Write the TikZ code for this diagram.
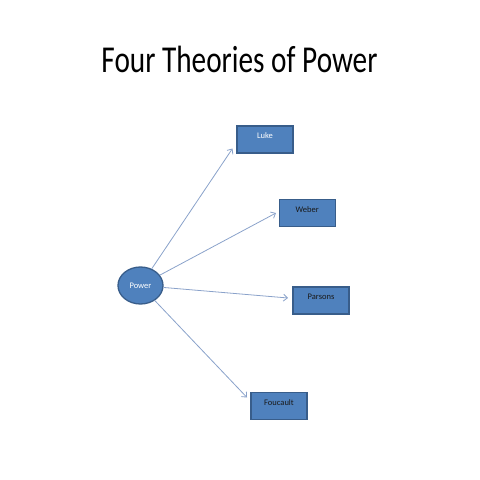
\documentclass[tikz,border=0pt]{standalone}
\usepackage{fontspec}
\setmainfont{Carlito}
\usetikzlibrary{arrows.meta,shapes.geometric}
\definecolor{boxfill}{HTML}{4F81BD}
\definecolor{boxline}{HTML}{385D8A}
\definecolor{arrcol}{HTML}{8AA2CA}
\definecolor{darktxt}{HTML}{1A1A1A}
\begin{document}
\begin{tikzpicture}[x=1pt,y=-1pt,
  box/.style={draw=boxline,line width=1.3pt,fill=boxfill,minimum width=56pt,minimum height=27pt,
    inner sep=0pt,font=\fontsize{8.5}{10}\selectfont,text depth=7pt},
  oval/.style={ellipse,draw=boxline,line width=1.3pt,fill=boxfill,minimum width=45pt,minimum height=37pt,
    inner sep=0pt,font=\fontsize{8.5}{10}\selectfont,text=white},
  arr/.style={draw=arrcol,line width=0.8pt,-{Straight Barb[length=4pt,width=7pt]}}]
\useasboundingbox (0,0) rectangle (480,480);
\node[font=\fontsize{38}{40}\selectfont,anchor=base] (title) at (239.5,72.3) {\scalebox{0.77}[1]{Four Theories of Power}};
\node[oval] (p) at (140.5,285.5) {Power};
\node[box,text=white] (luke) at (265,139.5) {Luke};
\node[box,text=darktxt] (weber) at (307.3,213) {Weber};
\node[box,text=darktxt] (parsons) at (321,300.5) {Parsons};
\node[box,text=darktxt] (foucault) at (279,406) {Foucault};
\coordinate (tL) at (232.5,148.5);
\coordinate (tW) at (276,213);
\coordinate (tP) at (288,298);
\coordinate (tF) at (247,397.5);
\draw[arr] (p) -- (tL);
\draw[arr] (p) -- (tW);
\draw[arr] (p) -- (tP);
\draw[arr] (p) -- (tF);
\end{tikzpicture}
\end{document}
